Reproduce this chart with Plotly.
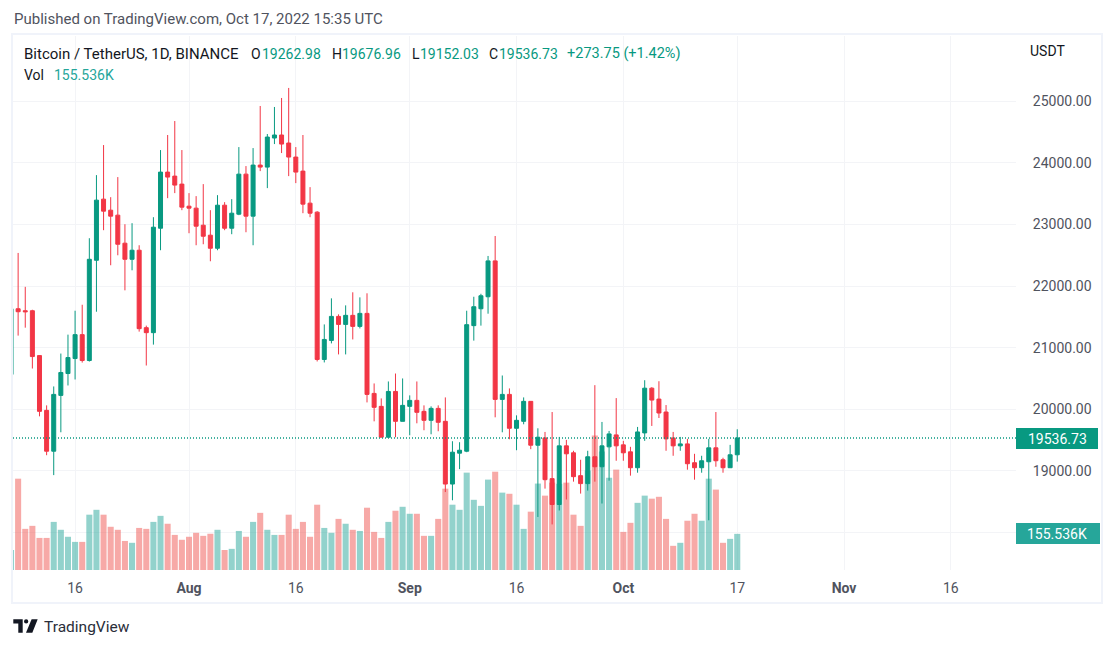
import pandas as pd
import plotly.graph_objects as go

# daily candles
dates = pd.date_range("2022-07-07", "2022-10-17", freq="D")

opens = [20566, 21633, 21601, 21601, 20873, 19984, 19321, 20227, 20582, 20825, 21213, 20793, 22420,
         23412, 23233, 23152, 22697, 22436, 22583, 21326, 21245, 22940, 23851, 23786, 23656,
         23298, 23266, 22989, 22827, 22615, 23314, 22940, 23168, 23818, 23136, 23965, 23932, 24404,
         24453, 24323, 24095, 23867, 23347, 23201, 20810, 21119, 21509, 21379, 21526, 21347, 21558,
         20259, 20049, 19548, 20291, 19806,
         20049, 20146, 19968, 19822, 20016, 19806, 18788, 19289, 19321, 21359, 21633, 21828, 22410,
         20162, 20243, 19693, 19806, 20130, 19418, 19537, 18876, 18456, 19408, 19295, 18924, 18795,
         19231, 19069, 19392, 19586,
         19424, 19311, 19053, 19618, 20344, 20167, 19957, 19537, 19408, 19440, 19134, 19053, 19150,
         19376, 19182, 19053, 19262.98]
highs = [21790, 22539, 21989, 21617, 20880, 20065, 20372, 20906, 21213, 21601, 21698, 22778, 23802,
         24290, 23444, 23770, 23005, 23022, 22664, 21359, 23119, 24209, 24453, 24680, 24209,
         23510, 23461, 23656, 23233, 23477, 23363, 23412, 24257, 23949, 24241, 24924, 24469, 24908,
         25054, 25217, 24257, 24453, 23607, 23217, 21379, 21802, 21542, 21688, 21900, 21818, 21884,
         20421, 20178, 20453, 20582, 20502,
         20227, 20453, 20065, 20049, 20065, 20194, 19483, 19467, 21601, 21828, 21876, 22490, 22814,
         20550, 20340, 19903, 20194, 20130, 19693, 19634, 19957, 19553, 19505, 19328, 19182, 19328,
         20393, 19796, 19650, 20183,
         19489, 19392, 19715, 20473, 20360, 20457, 20070, 19634, 19553, 19521, 19279, 19247, 19521,
         19957, 19215, 19424, 19676.96]
lows = [20500, 21197, 21326, 20663, 19887, 19256, 18933, 19628, 20388, 20485, 20760, 20776, 21585,
        22908, 22339, 22501, 21932, 22257, 21262, 20712, 21051, 22583, 23428, 23510, 23233,
        22859, 22664, 22680, 22404, 22583, 22908, 22843, 23152, 22875, 22664, 23867, 23591, 24306,
        24160, 23786, 23672, 23184, 23119, 20778, 20762, 21071, 20892, 20892, 21135, 21314, 20113,
        19806, 19548, 19548, 19548, 19806,
        19580, 19774, 19661, 19596, 19645, 18658, 18525, 19030, 19305, 21116, 21359, 21553, 19871,
        19628, 19515, 19337, 19758, 19354, 18254, 18714, 18133, 18359, 18537, 18827, 18633, 18682,
        18827, 18472, 18843, 19166,
        19166, 18924, 18972, 19489, 19731, 19860, 19328, 19247, 19328, 19021, 18859, 18972, 18200,
        19069, 18972, 19053, 19152.03]
closes = [21633, 21585, 21585, 20857, 19968, 19321, 20243, 20599, 20841, 21213, 20793, 22436, 23396,
          23217, 23136, 22680, 22436, 22583, 21310, 21245, 22957, 23851, 23770, 23640, 23282,
          23266, 22973, 22810, 22615, 23314, 22940, 23184, 23818, 23136, 23965, 23932, 24420, 24453,
          24306, 24095, 23851, 23331, 23184, 20810, 21135, 21509, 21379, 21526, 21347, 21558, 20243,
          20033, 19548, 20291, 19806, 20065,
          20146, 19952, 19822, 20016, 19790, 18788, 19305, 19337, 21375, 21666, 21844, 22410, 20162,
          20243, 19693, 19822, 20130, 19418, 19548, 18859, 18456, 19408, 19279, 18908, 18795, 19231,
          19069, 19408, 19602, 19408,
          19295, 19053, 19634, 20344, 20151, 19941, 19521, 19408, 19440, 19118, 19053, 19166, 19376,
          19166, 19053, 19263, 19536.73]
volumes = [86, 393, 177, 190, 138, 138, 207, 173, 143, 121, 121, 238, 259,
           238, 186, 173, 125, 117, 181, 177, 207, 233, 199, 151, 130,
           143, 160, 147, 156, 173, 86, 91, 168, 143, 207, 246, 173, 151,
           151, 238, 177, 207, 143, 281, 181, 160, 220, 199, 173, 168, 268,
           164, 138, 207, 255, 272,
           242, 242, 147, 147, 220, 350, 281, 259, 419, 302, 276, 389, 423,
           333, 328, 281, 177, 251, 372, 320, 376, 371, 376, 238, 190, 428,
           579, 510, 397, 432,
           164, 203, 289, 320, 307, 315, 220, 104, 117, 212, 242, 212, 393,
           346, 117, 134, 155.536]

price_grid = [18000, 19000, 20000, 21000, 22000, 23000, 24000, 25000]
price_labels = ["", "19000.00", "20000.00", "21000.00", "22000.00", "23000.00", "24000.00", "25000.00"]
time_ticks = ["2022-07-16", "2022-08-01", "2022-08-16", "2022-09-01", "2022-09-16",
              "2022-10-01", "2022-10-17", "2022-11-01", "2022-11-16"]
time_labels = ["16", "<b>Aug</b>", "16", "<b>Sep</b>", "16", "<b>Oct</b>", "17", "<b>Nov</b>", "16"]

last_price = 19536.73
FONT = "Roboto"
UP = "#089981"
DOWN = "#F23645"
DARK = "#131722"
GREY = "#50535E"
FRAME = "#F0F3FA"
GRID = "#F3F4F7"

W, H = 1116, 648
L, R, T, B = 13, 1016, 36, 570


def fx(x):
    # page pixel to paper x
    return (x - L) / (R - L)


def fy(y):
    # page pixel to paper y
    return (B - y) / (B - T)


def label(x, y, text, color=GREY, size=14, anchor="left"):
    return dict(x=fx(x), y=fy(y), xref="paper", yref="paper", text=text, showarrow=False,
                xanchor=anchor, yanchor="middle", xshift=-1 if anchor == "left" else 0,
                font=dict(family=FONT, size=size, color=color))


def box(x0, y0, x1, y1, color):
    return dict(type="rect", xref="paper", yref="paper", x0=fx(x0), x1=fx(x1), y0=fy(y0), y1=fy(y1),
                fillcolor=color, line=dict(width=0), layer="above")


def logo_path(points):
    return "M" + " L".join("{:.5f},{:.5f}".format(fx(a), fy(b)) for a, b in points) + " Z"


vol_colors = ["rgba(38,166,154,0.5)" if c >= o else "rgba(239,83,80,0.5)" for o, c in zip(opens, closes)]

fig = go.Figure()
fig.add_trace(go.Bar(x=dates, y=volumes, marker=dict(color=vol_colors, line=dict(width=0)),
                     yaxis="y", showlegend=False))
fig.add_trace(go.Candlestick(x=dates, open=opens, high=highs, low=lows, close=closes, yaxis="y2",
                             increasing=dict(line=dict(color=UP, width=1), fillcolor=UP),
                             decreasing=dict(line=dict(color=DOWN, width=1), fillcolor=DOWN),
                             whiskerwidth=0, showlegend=False))

shapes = [
    # chart frame
    dict(type="rect", xref="paper", yref="paper", x0=fx(12), x1=fx(1102), y0=fy(34), y1=fy(603),
         line=dict(color=FRAME, width=2), layer="below"),
    # last price line
    dict(type="line", xref="paper", yref="y2", x0=0, x1=1, y0=last_price, y1=last_price,
         line=dict(color=UP, width=1.5, dash="1px,2px"), layer="above"),
    box(1016, 428, 1098, 449, UP),
    box(1016, 523, 1100, 544, "#26A69A"),
    # logo
    dict(type="path", xref="paper", yref="paper", fillcolor=DARK, line=dict(width=0),
         path=logo_path([(13.3, 619.3), (22.7, 619.3), (22.7, 632.7), (18.3, 632.7), (18.3, 623.5), (13.3, 623.5)])),
    dict(type="circle", xref="paper", yref="paper", fillcolor=DARK, line=dict(width=0),
         x0=fx(24), x1=fx(28.3), y0=fy(619.3), y1=fy(623.6)),
    dict(type="path", xref="paper", yref="paper", fillcolor=DARK, line=dict(width=0),
         path=logo_path([(31.6, 619.3), (37.7, 619.3), (32.3, 632.7), (26, 632.7)])),
]

annotations = [
    label(13, 19, "Published on TradingView.com, Oct 17, 2022 15:35 UTC", size=15),
    label(23, 54, "Bitcoin / TetherUS, 1D, BINANCE", DARK, size=15),
    label(250, 54, "O", DARK), label(261, 54, "19262.98", UP),
    label(331, 54, "H", DARK), label(341, 54, "19676.96", UP),
    label(411, 54, "L", DARK), label(419, 54, "19152.03", UP),
    label(488, 54, "C", DARK), label(498, 54, "19536.73", UP),
    label(566, 54, "+273.75 (+1.42%)", UP, size=14.5),
    label(23, 75, "Vol", DARK), label(53, 75, "155.536K", "#26A69A"),
    label(1029, 51, "USDT", DARK),
    label(1057, 438.5, "19536.73", "#FFFFFF", anchor="center"),
    label(1057, 533.5, "155.536K", "#FFFFFF", anchor="center"),
    label(43, 627, "TradingView", "#2A2E39", size=15.5),
]

fig.update_layout(
    width=W, height=H,
    margin=dict(l=L, r=W - R, t=T, b=H - B, autoexpand=False),
    paper_bgcolor="#FFFFFF", plot_bgcolor="#FFFFFF",
    font=dict(family=FONT, size=14, color=GREY),
    bargap=0.15, boxgap=0.2, showlegend=False, hovermode=False,
    shapes=shapes, annotations=annotations,
    xaxis=dict(type="date", range=["2022-07-07 06:43", "2022-11-25 03:36"],
               rangeslider=dict(visible=False),
               tickmode="array", tickvals=time_ticks, ticktext=time_labels,
               showgrid=True, gridcolor=GRID, gridwidth=1, zeroline=False, showline=False,
               ticks="outside", ticklen=5, tickcolor="rgba(0,0,0,0)",
               tickfont=dict(family=FONT, size=14, color=GREY)),
    yaxis=dict(range=[0, 2298], visible=False, fixedrange=True),
    yaxis2=dict(overlaying="y", side="right", anchor="x", range=[17393, 26060],
                tickmode="array", tickvals=price_grid, ticktext=price_labels,
                showgrid=True, gridcolor=GRID, gridwidth=1, zeroline=False, showline=False,
                ticks="outside", ticklen=13, tickcolor="rgba(0,0,0,0)",
                tickfont=dict(family=FONT, size=14, color=GREY)),
)

# the page body has a default margin, drop it so the figure sits at the window corner
fig.write_html("out.html", config=dict(displayModeBar=False),
               post_script="document.body.style.margin='0';")
